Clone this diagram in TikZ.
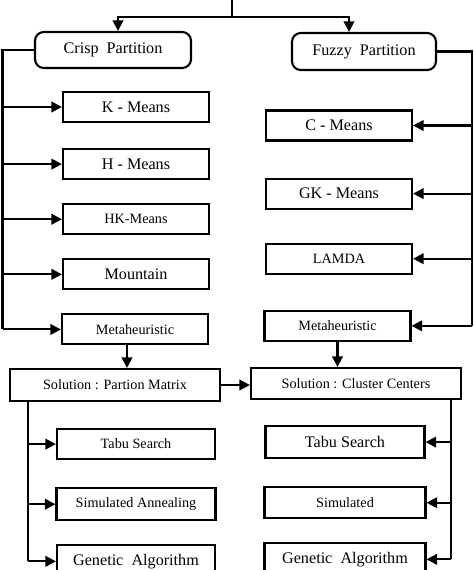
\documentclass[tikz,border=0pt]{standalone}
\usepackage{fontspec}
\setmainfont{Liberation Serif}
\usetikzlibrary{arrows.meta,positioning}

\begin{document}
\begin{tikzpicture}[line width=1.2pt, >={Triangle[length=6pt,width=6pt]},
  every node/.style={font=\fontsize{9.2}{11}\selectfont},
  box/.style={draw, minimum width=2.92cm, minimum height=0.6cm, inner sep=1pt},
  part/.style={draw, rounded corners=5pt, minimum height=0.72cm},
  small/.style={font=\fontsize{8.1}{10}\selectfont}]
  \useasboundingbox (0,0) rectangle (9.48,-11.4);

  % partitions
  \coordinate (top) at (4.64,0);
  \coordinate (split) at (4.64,-0.34);
  \node (crisp) [part, minimum width=3.12cm] at (2.26,-1.00) {Crisp\ \ Partition};
  \node (fuzzy) [part, minimum width=2.88cm, minimum height=0.74cm] at (7.28,-1.03) {Fuzzy\ \ Partition};

  % crisp methods
  \node (kmeans) [box] at (2.72,-2.14) {K - Means};
  \node (hmeans) [box, below=0.5cm of kmeans] {H - Means};
  \node (hkmeans) [box, small, below=0.46cm of hmeans] {HK-Means};
  \node (mountain) [box, below=0.46cm of hkmeans] {Mountain};
  \node (metaL) [box, small, below=0.46cm of mountain, xshift=-0.02cm] {Metaheuristic};

  % fuzzy methods
  \node (cmeans) [box] at (6.78,-2.51) {C - Means};
  \node (gkmeans) [box, below=0.72cm of cmeans] {GK - Means};
  \node (lamda) [box, small, below=0.66cm of gkmeans] {LAMDA};
  \node (metaR) [box, small, below=0.70cm of lamda, xshift=-0.03cm] {Metaheuristic};

  % solutions
  \node (solL) [box, small, minimum width=4.2cm, minimum height=0.64cm] at (2.30,-7.70) {Solution : Partion Matrix};
  \node (solR) [box, small, minimum width=4.2cm, minimum height=0.62cm] at (7.12,-7.67) {Solution : Cluster Centers};

  \node (tabuL) [box, small, minimum width=3.16cm, below=0.52cm of solL, xshift=0.42cm] {Tabu Search};
  \node (saL) [box, small, minimum width=3.18cm, minimum height=0.64cm, below=0.54cm of tabuL] {Simulated Annealing};
  \node (gaL) [box, minimum width=3.16cm, minimum height=0.64cm, below=0.46cm of saL] {Genetic\ \ Algorithm};

  \node (tabuR) [box, minimum width=3.18cm, minimum height=0.64cm, below=0.5cm of solR, xshift=-0.22cm] {Tabu Search};
  \node (simR) [box, small, minimum width=3.22cm, minimum height=0.62cm, below=0.54cm of tabuR] {Simulated};
  \node (gaR) [box, minimum width=3.22cm, minimum height=0.64cm, below=0.46cm of simR] {Genetic\ \ Algorithm};

  \coordinate (lbus) at (0.05,0);
  \coordinate (rbus) at (9.44,0);
  \coordinate (lbus2) at (0.56,0);
  \coordinate (rbus2) at (9.02,0);

  \draw (top) -- (split);
  \draw[->] (split) -| ([xshift=0.1cm]crisp.north);
  \draw[->] (split) -| ([xshift=-0.3cm]fuzzy.north);

  \draw (crisp.west) -- (crisp.west -| lbus) -- (metaL.west -| lbus);
  \foreach \n in {kmeans,hmeans,hkmeans,mountain,metaL}
    \draw[->] (\n.west -| lbus) -- (\n.west);

  \draw (fuzzy.east) -- (fuzzy.east -| rbus) -- (metaR.east -| rbus);
  \foreach \n in {cmeans,gkmeans,lamda,metaR}
    \draw[->] (\n.east -| rbus) -- (\n.east);

  \draw[->] ([xshift=-0.16cm]metaL.south) -- ([xshift=-0.16cm]metaL.south |- solL.north);
  \draw[->] (metaR.south) -- (metaR.south |- solR.north);
  \draw[->] (solL.east) -- (solL.east -| solR.west);

  \draw (solL.south -| lbus2) -- (gaL.west -| lbus2);
  \foreach \n in {tabuL,saL,gaL}
    \draw[->] (\n.west -| lbus2) -- (\n.west);

  \draw (solR.south -| rbus2) -- (gaR.east -| rbus2);
  \foreach \n in {tabuR,simR,gaR}
    \draw[->] (\n.east -| rbus2) -- (\n.east);
\end{tikzpicture}
\end{document}
